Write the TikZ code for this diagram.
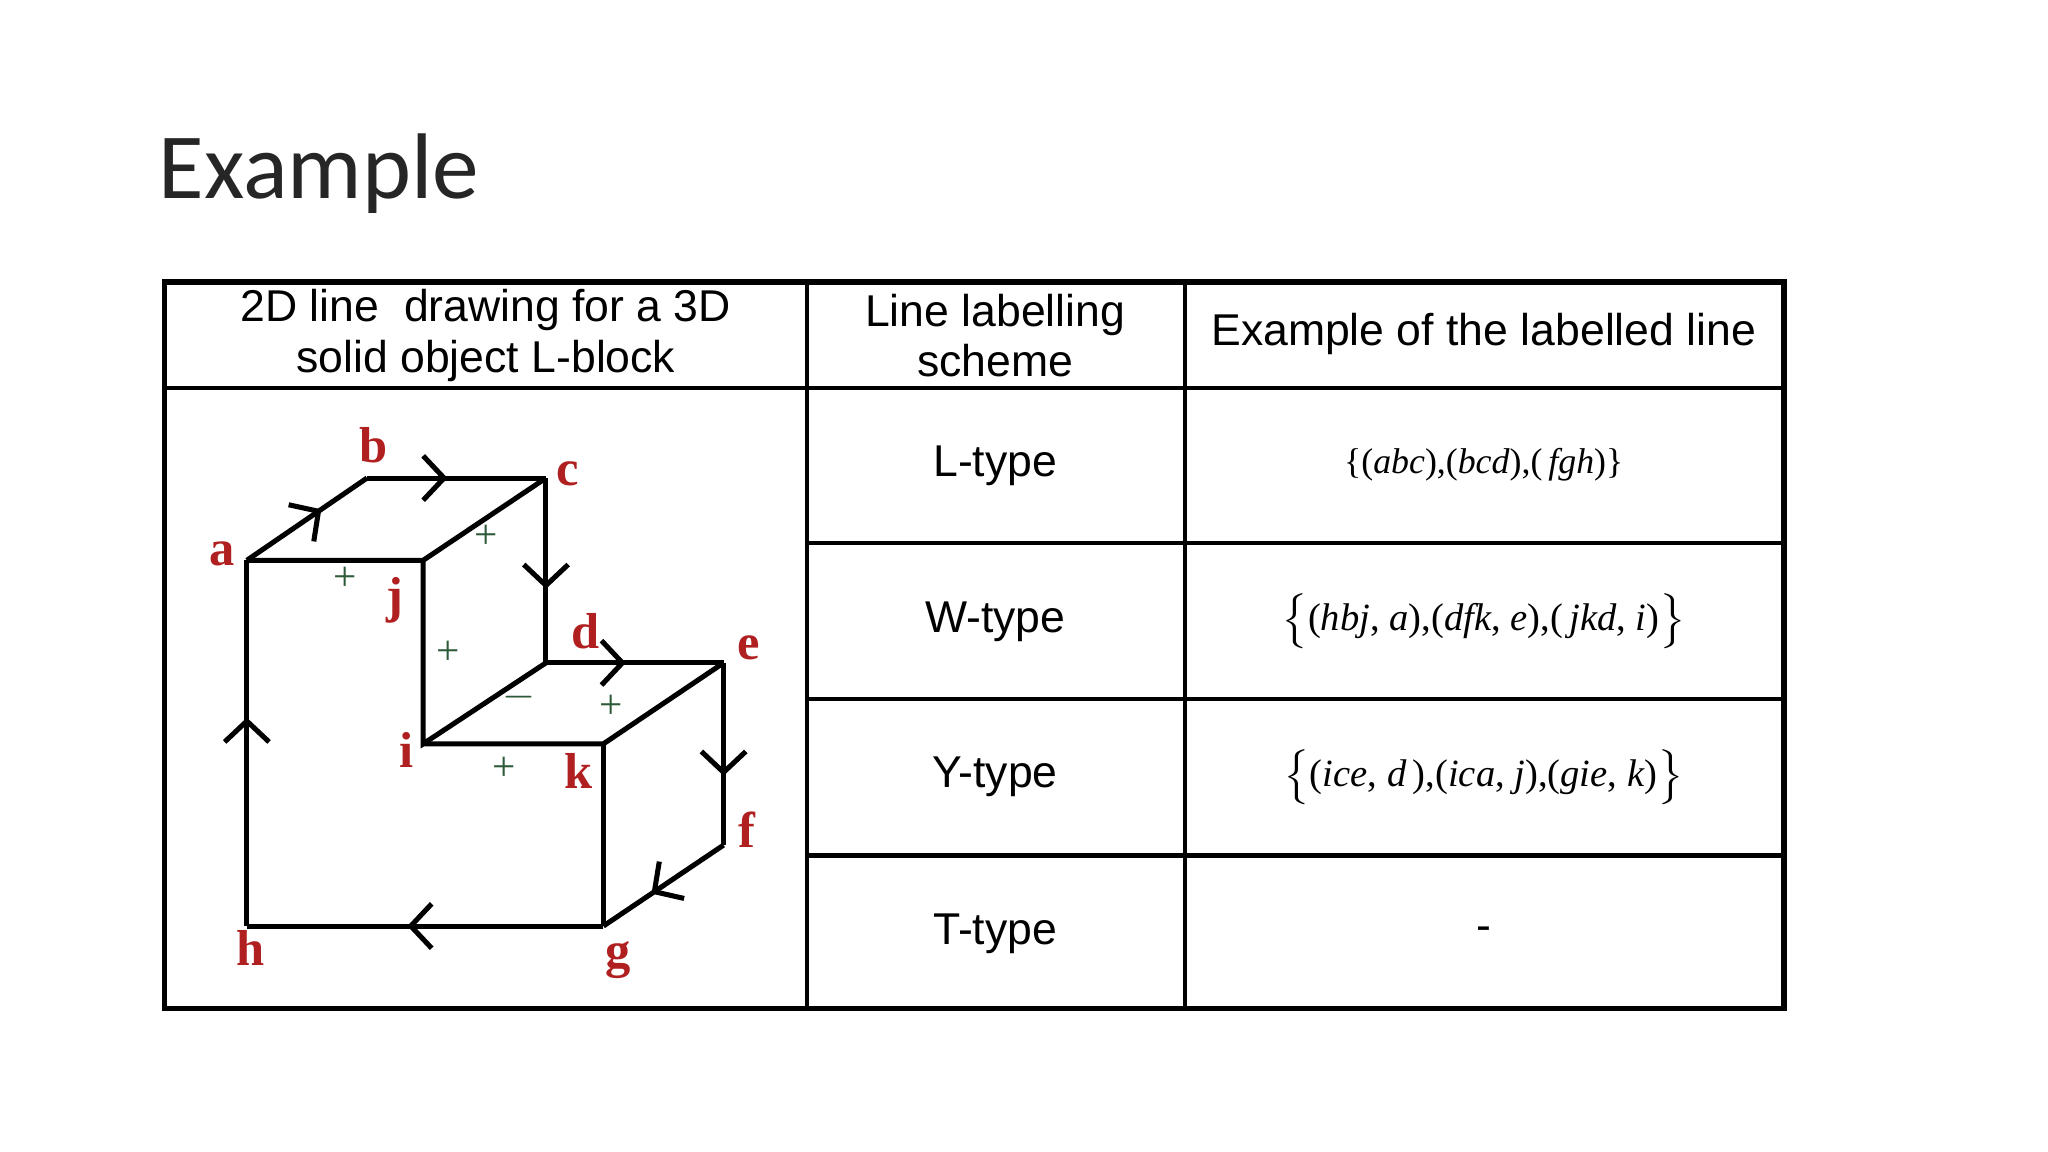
\documentclass[tikz,border=0pt]{standalone}
\usepackage{fontspec}
\setmainfont{Liberation Serif}
\newfontfamily\titlefont{Carlito}
\newfontfamily\hdfont{Liberation Sans}
\usetikzlibrary{decorations.markings,arrows.meta}
\definecolor{lblred}{HTML}{B02020}
\definecolor{plusgreen}{HTML}{2F5A3A}
\tikzset{
  hd/.style={font=\hdfont\fontsize{9.7}{11}\selectfont,align=center,inner sep=0},
  mth/.style={inner sep=0},
  edge/.style={line width=1.1pt,line join=miter},
  chev/.style={postaction={decorate,decoration={markings,mark=at position #1 with {\arrow{Straight Barb[length=1.6mm,width=3.4mm,line width=1.1pt]}}}}},
  vlbl/.style={text=lblred,font=\bfseries\fontsize{11}{11}\selectfont,inner sep=0},
  sgn/.style={text=plusgreen,font=\fontsize{9}{9}\selectfont,inner sep=0},
  cellline/.style={line width=0.9pt},
  outer/.style={line width=1.2pt}
}
\begin{document}
\begin{tikzpicture}[x=0.01cm,y=-0.01cm]
\useasboundingbox (0,0) rectangle (1568,882);
\node[anchor=base west,inner sep=0,font=\titlefont\fontsize{20.3}{22}\selectfont,text=black!85] (title) at (121,152) {Example};
% table
\draw[outer] (126,216) rectangle (1366,772);
\draw[cellline] (618,216) -- (618,772) (907,216) -- (907,772);
\draw[cellline] (126,297) -- (1366,297);
\draw[cellline] (618,416) -- (1366,416) (618,535) -- (1366,535) (618,655) -- (1366,655);
\node[hd] (h1) at (372,257) {2D line\ \ drawing for a 3D\\solid object L-block};
\node[hd] (h2) at (762,257) {Line labelling\\scheme};
\node[hd] (h3) at (1136,256) {Example of the labelled line};
\node[hd] (r1) at (762,357) {L-type};
\node[hd] (r2) at (762,476) {W-type};
\node[hd] (r3) at (762,595) {Y-type};
\node[hd] (r4) at (762,715) {T-type};
\node[mth,font=\fontsize{7.8}{8}\selectfont] (m1) at (1136,356) {\{(\textit{abc}),(\textit{bcd}),(\,\textit{fgh})\}};
\node[mth,font=\fontsize{8.4}{10}\selectfont] (m2) at (1136,475) {$\big\{$(\textit{hbj}, \textit{a}),(\textit{dfk}, \textit{e}),(\,\textit{jkd}, \textit{i})$\big\}$};
\node[mth,font=\fontsize{8.4}{10}\selectfont] (m3) at (1136,594) {$\big\{$(\textit{ice}, \textit{d}\,),(\textit{ica}, \textit{j}),(\textit{gie}, \textit{k})$\big\}$};
\node[hd] (m4) at (1136,715) {-};
% drawing
\coordinate (a) at (189,429);
\coordinate (b) at (281,366);
\coordinate (c) at (418,366);
\coordinate (j) at (324,429);
\coordinate (d) at (418,507.5);
\coordinate (e) at (554,507.5);
\coordinate (i) at (324,569.5);
\coordinate (k) at (462,569.5);
\coordinate (f) at (554,647);
\coordinate (g) at (462,709);
\coordinate (h) at (189,709);
\draw[edge,chev=0.62] (a) -- (b);
\draw[edge,chev=0.45] (b) -- (c);
\draw[edge,chev=0.6] (c) -- (d);
\draw[edge,chev=0.45] (d) -- (e);
\draw[edge,chev=0.62] (e) -- (f);
\draw[edge,chev=0.6] (f) -- (g);
\draw[edge,chev=0.55] (g) -- (h);
\draw[edge,chev=0.57] (h) -- (a);
\draw[edge] (a) -- (j) -- (c);
\draw[edge] (j) -- (i) -- (d);
\draw[edge] (i) -- (k) -- (e);
\draw[edge] (k) -- (g);
\node[vlbl] (la) at (170,424) {a};
\node[vlbl] (lb) at (286,341) {b};
\node[vlbl] (lc) at (435,363) {c};
\node[vlbl] (lj) at (302,460) {j};
\node[vlbl] (ld) at (448,483) {d};
\node[vlbl] (le) at (573,496) {e};
\node[vlbl] (li) at (311,574) {i};
\node[vlbl] (lk) at (443,590) {k};
\node[vlbl] (lf) at (572,635) {f};
\node[vlbl] (lg) at (473,735) {g};
\node[vlbl] (lh) at (192,726) {h};
\node[sgn] (p1) at (264,443) {+};
\node[sgn] (p2) at (372,411) {+};
\node[sgn] (p3) at (343,500) {+};
\node[sgn] (p4) at (468,541) {+};
\node[sgn] (p5) at (386,589) {+};
\node[sgn] (p6) at (397,534) {$-$};
\end{tikzpicture}
\end{document}
